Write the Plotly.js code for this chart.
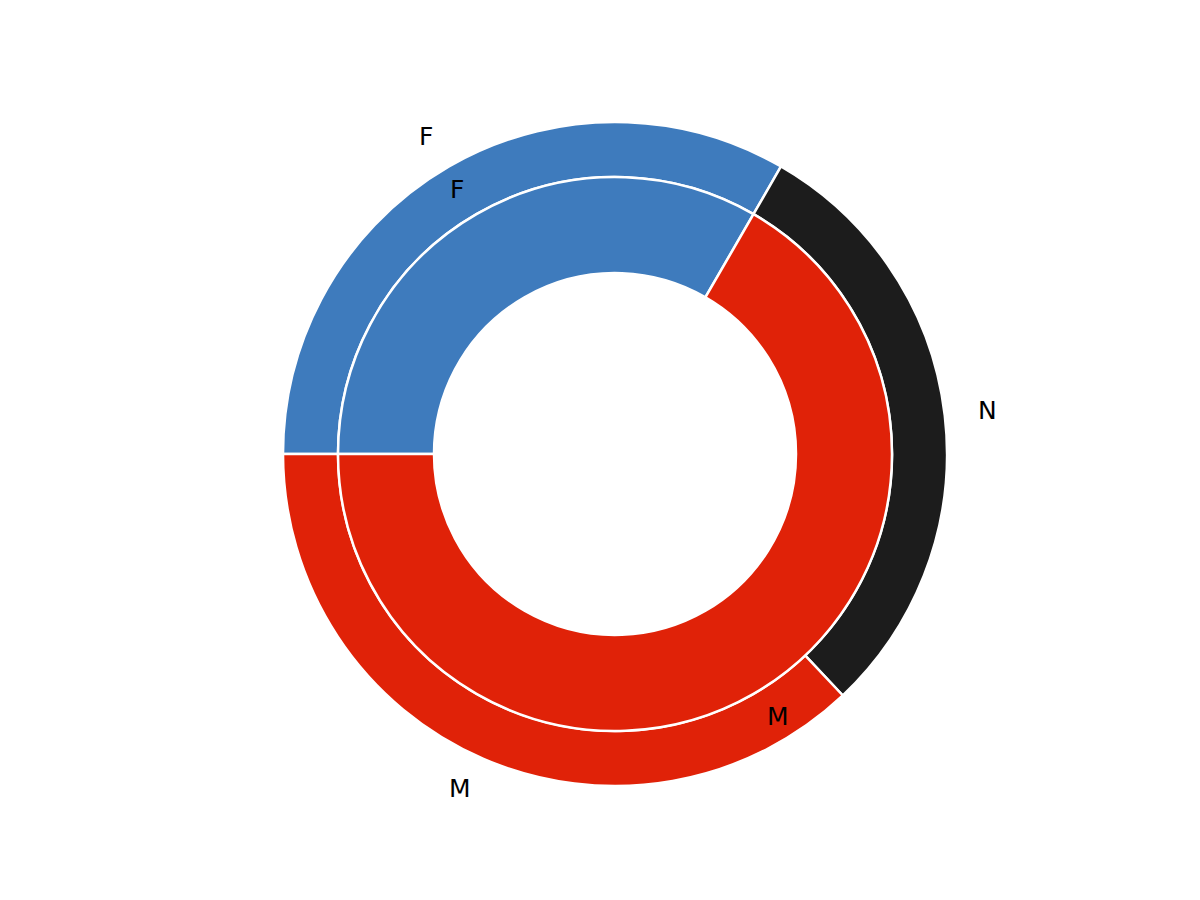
<!DOCTYPE html>
<html>
<head>
<meta charset="utf-8">
<script src="https://cdn.plot.ly/plotly-3.0.1.min.js"></script>
<style>html,body{margin:0;padding:0;background:#fff;}#chart{width:1200px;height:900px;}</style>
</head>
<body>
<div id="chart"></div>
<script>
// Outer ring
const outerLabels = ["F", "N", "M"];
const outerValues = [9, 8, 10];
const outerColors = ["#3e7bbd", "#1c1c1c", "#e02208"];
// Inner ring
const innerLabels = ["F", "M"];
const innerValues = [9, 18];
const innerColors = ["#3e7bbd", "#e02208"];

const W = 1200, H = 900;
const cx = 615, cy = 454;
const rOuter = 332, rMid = 277, rInner = 181;
const startDeg = 180; // 9 o'clock, going clockwise

function domainFor(r) {
  return {
    x: [(cx - r) / W, (cx + r) / W],
    y: [(H - cy - r) / H, (H - cy + r) / H]
  };
}

const traces = [
  {
    type: "pie",
    labels: outerLabels,
    values: outerValues,
    sort: false,
    direction: "clockwise",
    rotation: 270,
    hole: rMid / rOuter,
    domain: domainFor(rOuter),
    marker: { colors: outerColors, line: { color: "#ffffff", width: 2.5 } },
    textinfo: "none",
    hoverinfo: "label+value",
    showlegend: false
  },
  {
    type: "pie",
    labels: innerLabels,
    values: innerValues,
    sort: false,
    direction: "clockwise",
    rotation: 270,
    hole: rInner / rMid,
    domain: domainFor(rMid),
    marker: { colors: innerColors, line: { color: "#ffffff", width: 2.5 } },
    textinfo: "none",
    hoverinfo: "label+value",
    showlegend: false
  }
];

function labelAnnotations(labels, values, radius) {
  const total = values.reduce((a, b) => a + b, 0);
  let acc = 0;
  const out = [];
  labels.forEach((lab, i) => {
    const a0 = startDeg - (acc / total) * 360;
    acc += values[i];
    const a1 = startDeg - (acc / total) * 360;
    const mid = (a0 + a1) / 2 * Math.PI / 180;
    const px = cx + 1.1 * radius * Math.cos(mid);
    const py = cy - 1.1 * radius * Math.sin(mid);
    const right = Math.cos(mid) >= 0;
    out.push({
      text: lab,
      x: px / W,
      y: 1 - py / H,
      xref: "paper",
      yref: "paper",
      xanchor: right ? "left" : "right",
      yanchor: "middle",
      xshift: right ? -2 : 3,
      yshift: 1,
      showarrow: false,
      font: { family: "DejaVu Sans", size: 25, color: "#000000" }
    });
  });
  return out;
}

const layout = {
  width: W,
  height: H,
  margin: { l: 0, r: 0, t: 0, b: 0 },
  paper_bgcolor: "#ffffff",
  plot_bgcolor: "#ffffff",
  showlegend: false,
  annotations: labelAnnotations(outerLabels, outerValues, rOuter)
    .concat(labelAnnotations(innerLabels, innerValues, rMid))
};

Plotly.newPlot("chart", traces, layout, { displayModeBar: false, staticPlot: true });
</script>
</body>
</html>
